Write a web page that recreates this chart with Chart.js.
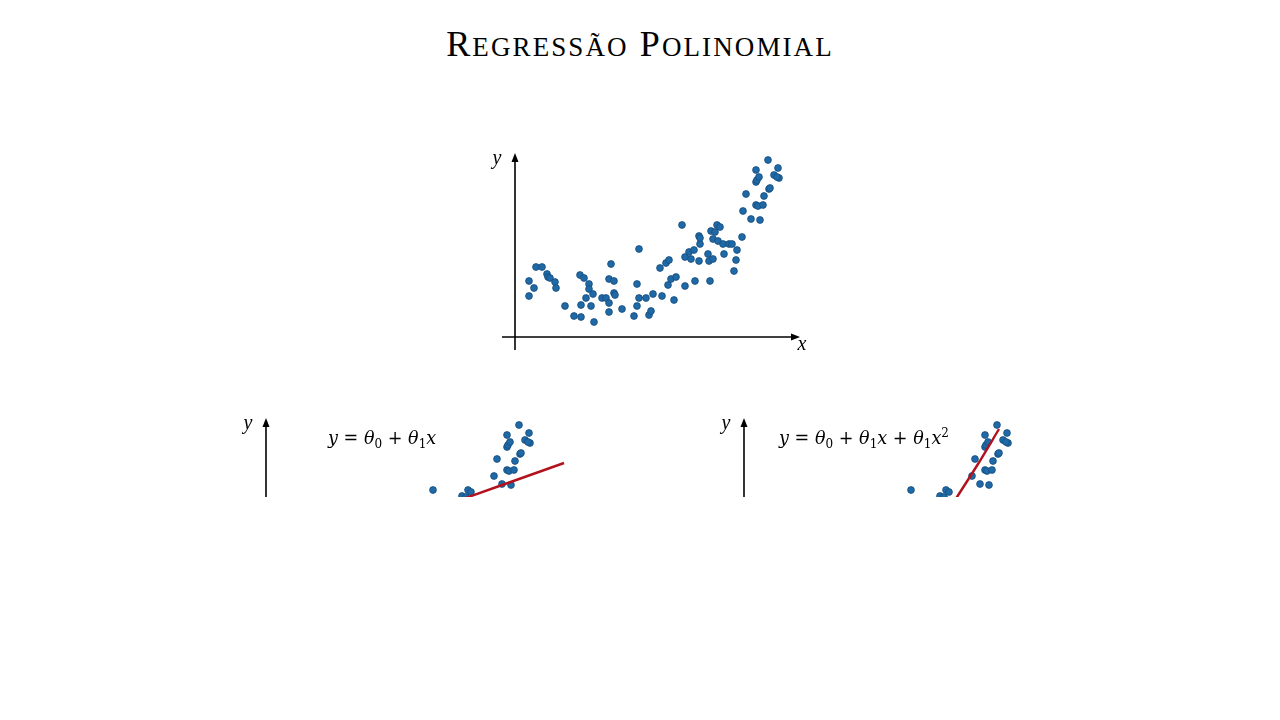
<!DOCTYPE html>
<html lang="pt">
<head>
<meta charset="utf-8">
<title>Regressão Polinomial</title>
<script src="https://cdn.jsdelivr.net/npm/chart.js@4.4.1/dist/chart.umd.min.js"></script>
<style>
  html, body { margin: 0; padding: 0; background: #fff; }
  body { width: 1280px; height: 720px; position: relative; overflow: hidden; }
  #titulo {
    position: absolute; left: 0; top: 23px; width: 1280px; text-align: center;
    font-family: "Liberation Serif", "DejaVu Serif", serif; font-size: 36px;
    color: #000; letter-spacing: 2.1px; white-space: nowrap;
  }
  #titulo .sc { font-size: 27px; }
  canvas { position: absolute; }
  .eq {
    position: absolute; font-family: "DejaVu Serif", serif; font-size: 17.6px; color: #000;
    white-space: nowrap;
  }
  .eq i { font-style: italic; }
  .eq sub { font-size: 12px; vertical-align: -4px; line-height: 0; }
  .eq sup { font-size: 12px; vertical-align: 7px; line-height: 0; }
</style>
</head>
<body>
<div id="titulo">R<span class="sc">EGRESSÃO</span> P<span class="sc">OLINOMIAL</span></div>
<canvas id="principal" width="340" height="220" style="left:480px;top:140px"></canvas>
<canvas id="linear" width="350" height="92" style="left:230px;top:405px"></canvas>
<canvas id="quadratica" width="330" height="92" style="left:710px;top:405px"></canvas>
<div class="eq" style="left:328px;top:428px"><i>y</i> = <i>θ</i><sub>0</sub> + <i>θ</i><sub>1</sub><i>x</i></div>
<div class="eq" style="left:779px;top:428px"><i>y</i> = <i>θ</i><sub>0</sub> + <i>θ</i><sub>1</sub><i>x</i> + <i>θ</i><sub>1</sub><i>x</i><sup>2</sup></div>
<script>
// dados (unidades do eixo)
const pontosX = [14, 14, 19, 21, 27, 32, 33, 35, 40, 41, 50, 59, 66, 65, 69, 74, 74, 78, 71, 66,
  76, 79, 87, 91, 94, 94, 94, 99, 96, 99, 100, 107, 119, 122, 122, 124, 124, 131, 134, 136,
  138, 147, 145, 151, 154, 153, 156, 161, 159, 167, 170, 170, 174, 176, 179, 180, 184, 185, 184, 185,
  193, 194, 198, 195, 196, 200, 198, 202, 205, 203, 208, 209, 214, 217, 222, 221, 219, 227, 228, 231,
  236, 241, 243, 245, 248, 249, 254, 255, 241, 242, 244, 241, 253, 259, 263, 264, 262];
const pontosY = [56, 41, 49, 70, 70, 63, 60, 59, 55, 49, 31, 21, 20, 62, 59, 53, 48, 43, 39, 32,
  31, 15, 39, 39, 34, 25, 58, 56, 73, 44, 42, 28, 21, 31, 53, 39, 88, 39, 22, 26,
  43, 41, 69, 74, 77, 52, 58, 60, 37, 112, 51, 80, 85, 78, 87, 56, 76, 93, 101, 99,
  83, 76, 78, 56, 106, 105, 98, 112, 110, 96, 93, 83, 93, 93, 87, 77, 66, 100, 126, 143,
  118, 132, 131, 117, 132, 141, 148, 149, 155, 157, 160, 167, 177, 162, 169, 159, 160];

// retas ajustadas
const retaLinearX = [180, 298];
const retaLinearY = [97, 139];
const curvaQuadX = [204, 234, 255];
const curvaQuadY = [91, 138, 173];

const pontos = pontosX.map((x, i) => ({ x, y: pontosY[i] }));

const azul = '#1f69a6';
const azulBorda = '#174d7e';
const vermelho = '#b3121d';

// desenha eixos com setas e rótulos x / y
const eixosSetas = {
  id: 'eixosSetas',
  beforeDatasetsDraw(chart, args, opts) {
    const { ctx, scales: { x, y } } = chart;
    const x0 = x.getPixelForValue(0);
    const y0 = y.getPixelForValue(0);
    const yTop = y.getPixelForValue(184);
    const yBot = y.getPixelForValue(-13);
    const xLeft = x.getPixelForValue(-13);
    const xRight = x.getPixelForValue(285);
    ctx.save();
    ctx.strokeStyle = '#000';
    ctx.fillStyle = '#000';
    ctx.lineWidth = 1.6;
    ctx.beginPath();
    ctx.moveTo(x0, yBot);
    ctx.lineTo(x0, yTop + 6);
    ctx.stroke();
    ctx.beginPath();
    ctx.moveTo(x0, yTop);
    ctx.lineTo(x0 - 3.5, yTop + 9);
    ctx.lineTo(x0 + 3.5, yTop + 9);
    ctx.closePath();
    ctx.fill();
    if (opts.eixoX) {
      ctx.beginPath();
      ctx.moveTo(xLeft, y0);
      ctx.lineTo(xRight - 6, y0);
      ctx.stroke();
      ctx.beginPath();
      ctx.moveTo(xRight, y0);
      ctx.lineTo(xRight - 9, y0 - 3.5);
      ctx.lineTo(xRight - 9, y0 + 3.5);
      ctx.closePath();
      ctx.fill();
    }
    ctx.font = 'italic 20px "Liberation Serif", serif';
    ctx.textAlign = 'center';
    ctx.textBaseline = 'middle';
    ctx.fillText('y', x0 - 18, yTop + 6);
    if (opts.eixoX) ctx.fillText('x', xRight + 2, y0 + 8);
    ctx.restore();
  }
};

const criarPainel = (canvasId, limites, reta, eixoX) => {
  const ctx = document.getElementById(canvasId).getContext('2d');
  const datasets = [{
    data: pontos,
    backgroundColor: azul,
    borderColor: azulBorda,
    borderWidth: 0.8,
    pointRadius: 3.4,
    clip: false,
    order: 1
  }];
  if (reta) {
    datasets.push({
      type: 'line',
      data: reta.x.map((x, i) => ({ x, y: reta.y[i] })),
      borderColor: vermelho,
      borderWidth: 2.4,
      pointRadius: 0,
      tension: 0.3,
      fill: false,
      clip: false,
      order: 0
    });
  }
  return new Chart(ctx, {
    type: 'scatter',
    data: { datasets },
    options: {
      responsive: false,
      animation: false,
      layout: { padding: 0, autoPadding: false },
      plugins: {
        legend: { display: false },
        tooltip: { enabled: false },
        eixosSetas: { eixoX }
      },
      scales: {
        x: { type: 'linear', display: false, min: limites[0], max: limites[1] },
        y: { type: 'linear', display: false, min: limites[2], max: limites[3] }
      }
    },
    plugins: [eixosSetas]
  });
};

criarPainel('principal', [-35, 305, -23, 197], null, true);
criarPainel('linear', [-36, 314, 105, 197], { x: retaLinearX, y: retaLinearY }, false);
criarPainel('quadratica', [-34, 296, 105, 197], { x: curvaQuadX, y: curvaQuadY }, false);
</script>
</body>
</html>
